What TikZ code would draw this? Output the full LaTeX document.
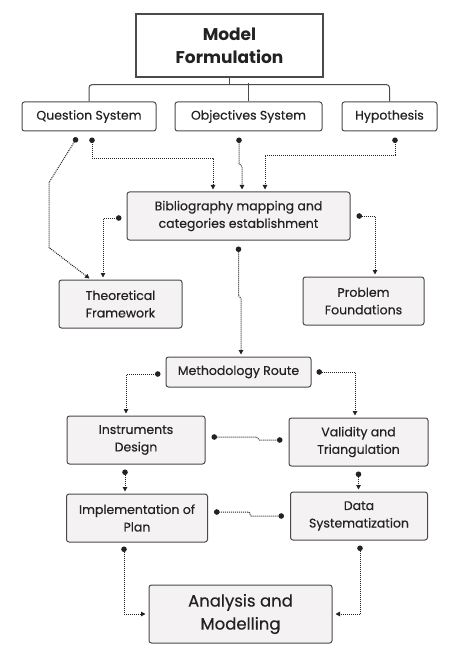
\documentclass[tikz,border=0pt]{standalone}
\usepackage{fontspec}
\setmainfont{Poppins}
\newfontfamily\boxfont{Poppins}[FakeBold=0.4]
\usetikzlibrary{arrows.meta}
\definecolor{boxline}{HTML}{4A4A4A}
\definecolor{boxfill}{HTML}{F4F2F2}
\definecolor{ink}{HTML}{222222}
\tikzset{
  box/.style={draw=boxline,line width=1pt,rounded corners=2.5pt,fill=boxfill,
    align=center,text=ink,inner sep=0pt,font=\boxfont\fontsize{12.5}{17.5}\selectfont},
  topbox/.style={box,fill=white},
  link/.style={draw=ink,line width=1pt,dash pattern=on 1pt off 1pt,
    {Circle[length=5.5pt]}-{Triangle[length=4.5pt,width=4.5pt]}},
  twin/.style={link,{Circle[length=5.5pt]}-{Circle[length=5.5pt]}},
  tree/.style={draw=boxline,line width=1pt,rounded corners=3pt}
}
\begin{document}
\begin{tikzpicture}[x=1pt,y=-1pt]
      \useasboundingbox (0,0) rectangle (474,660);
      \node [topbox,rounded corners=0pt,line width=1.3pt,minimum width=187pt,minimum height=63pt,
        font=\fontsize{17}{23}\selectfont\bfseries] (MF) at (229.5,45.5) {Model\\Formulation};
      \node [topbox,minimum width=134pt,minimum height=29pt] (QS) at (89,116.5) {Question System};
      \node [topbox,minimum width=147pt,minimum height=29pt] (OS) at (248.5,116.5) {Objectives System};
      \node [topbox,minimum width=95pt,minimum height=29pt] (HY) at (389.5,116.5) {Hypothesis};
      \node [box,minimum width=223pt,minimum height=48pt] (BM) at (238.5,216) {Bibliography mapping and\\categories establishment};
      \node [box,minimum width=123pt,minimum height=48pt] (TF) at (120.5,304) {Theoretical\\Framework};
      \node [box,minimum width=121pt,minimum height=48pt] (PF) at (363.5,301) {Problem\\Foundations};
      \node [box,minimum width=145pt,minimum height=30pt] (MR) at (238.5,372) {Methodology Route};
      \node [box,minimum width=138pt,minimum height=48pt] (ID) at (136,440) {Instruments\\Design};
      \node [box,minimum width=139pt,minimum height=48pt] (VT) at (358.5,442) {Validity and\\Triangulation};
      \node [box,minimum width=141pt,minimum height=48pt] (IP) at (137,518) {Implementation of\\Plan};
      \node [box,minimum width=137pt,minimum height=48pt] (DS) at (359,516) {Data\\Systematization};
      \node [box,minimum width=183pt,minimum height=58pt,
        font=\boxfont\fontsize{16.5}{23}\selectfont] (AM) at (240.5,614) {Analysis and\\Modelling};
      \draw [tree] (QS.north) |- ([yshift=-7pt]MF.south) -| (HY.north);
      \draw [tree] (MF.south) -- ++(0,7);
      \draw [tree] (OS.north) -- ++(0,-18);
      \draw [link] ([xshift=-12pt,yshift=-6pt]QS.south) -- ++(-28,45) -- ++(0,65) -- ([xshift=-31pt,yshift=1pt]TF.north);
      \draw [link] ([xshift=3pt,yshift=-6pt]QS.south) -- ++(0,21) -| ([xshift=-25.5pt,yshift=2pt]BM.north);
      \draw [link] ([xshift=-9.5pt,yshift=-6pt]OS.south) -- ++(0,26) -- ++(3,3) -- ([xshift=3.5pt,yshift=2pt]BM.north);
      \draw [link] ([xshift=5.5pt,yshift=-6pt]HY.south) -- ++(0,18) -| ([xshift=26.5pt,yshift=2pt]BM.north);
      \draw [link] ([xshift=-5pt,yshift=-2pt]BM.west) -| ([xshift=-17.5pt,yshift=2pt]TF.north);
      \draw [link] ([xshift=6pt]BM.east) -| ([xshift=11.5pt,yshift=2pt]PF.north);
      \draw [link] ([yshift=-6pt]BM.south) -- ++(0,49) -- ++(2.5,3) -- ([xshift=2.5pt,yshift=2pt]MR.north);
      \draw [link] ([xshift=-5pt,yshift=-2pt]MR.west) -| ([xshift=-10pt,yshift=2pt]ID.north);
      \draw [link] ([xshift=5pt]MR.east) -| ([xshift=-3.5pt,yshift=2pt]VT.north);
      \draw [twin] ([xshift=6pt,yshift=3pt]ID.east) -- ++(45,0) -- ++(3,3) -- ([xshift=-6pt,yshift=2pt]VT.west);
      \draw [link] ([xshift=-11pt,yshift=-5pt]ID.south) -- ([xshift=-12pt,yshift=2pt]IP.north);
      \draw [link] ([yshift=-5pt]VT.south) -- ([xshift=-0.5pt,yshift=2pt]DS.north);
      \draw [twin] ([xshift=6pt,yshift=6pt]IP.east) -- ++(35,0) -- ++(2,4) -- ([xshift=-6pt]DS.west);
      \draw [link] ([xshift=-13pt,yshift=-4pt]IP.south) |- ([xshift=-3pt]AM.west);
      \draw [link] ([xshift=1pt,yshift=-5pt]DS.south) |- ([xshift=3pt]AM.east);
    \end{tikzpicture}
\end{document}
